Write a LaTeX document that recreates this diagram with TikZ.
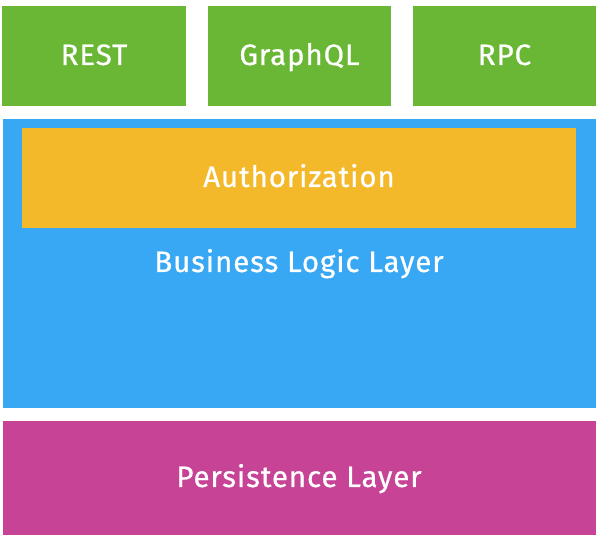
\documentclass[tikz,border=0pt]{standalone}
\usepackage{fontspec}
\setmainfont{Fira Sans}
\newfontfamily\lblfont{Fira Sans}[LetterSpace=3,FakeBold=0.6]
\definecolor{cgreen}{HTML}{6AB736}
\definecolor{cblue}{HTML}{38A8F5}
\definecolor{corange}{HTML}{F4B92A}
\definecolor{cmag}{HTML}{C64396}
\begin{document}
\begin{tikzpicture}[x=1pt,y=-1pt,
  box/.style={inner sep=0pt, outer sep=0pt},
  lbl/.style={text=white, anchor=base, inner sep=0pt, font=\lblfont\fontsize{29.5}{34}\selectfont}]
\useasboundingbox[fill=white] (0,0) rectangle (598,537);
\fill[cgreen] (2,6) rectangle (186,106);
\fill[cgreen] (208,6) rectangle (391,106);
\fill[cgreen] (413,6) rectangle (596,106);
\fill[cblue] (3,119) rectangle (596,408);
\fill[corange] (22,128) rectangle (576,228);
\fill[cmag] (3,421) rectangle (596,535);
\node[lbl] (rest) at (94,65) {REST};
\node[lbl] (gql) at (299.5,65) {GraphQL};
\node[lbl] (rpc) at (504.5,65) {RPC};
\node[lbl] (auth) at (299,187) {Authorization};
\node[lbl] (blt) at (299,272) {Business Logic Layer};
\node[lbl] (pers) at (299,487) {Persistence Layer};
\end{tikzpicture}
\end{document}
